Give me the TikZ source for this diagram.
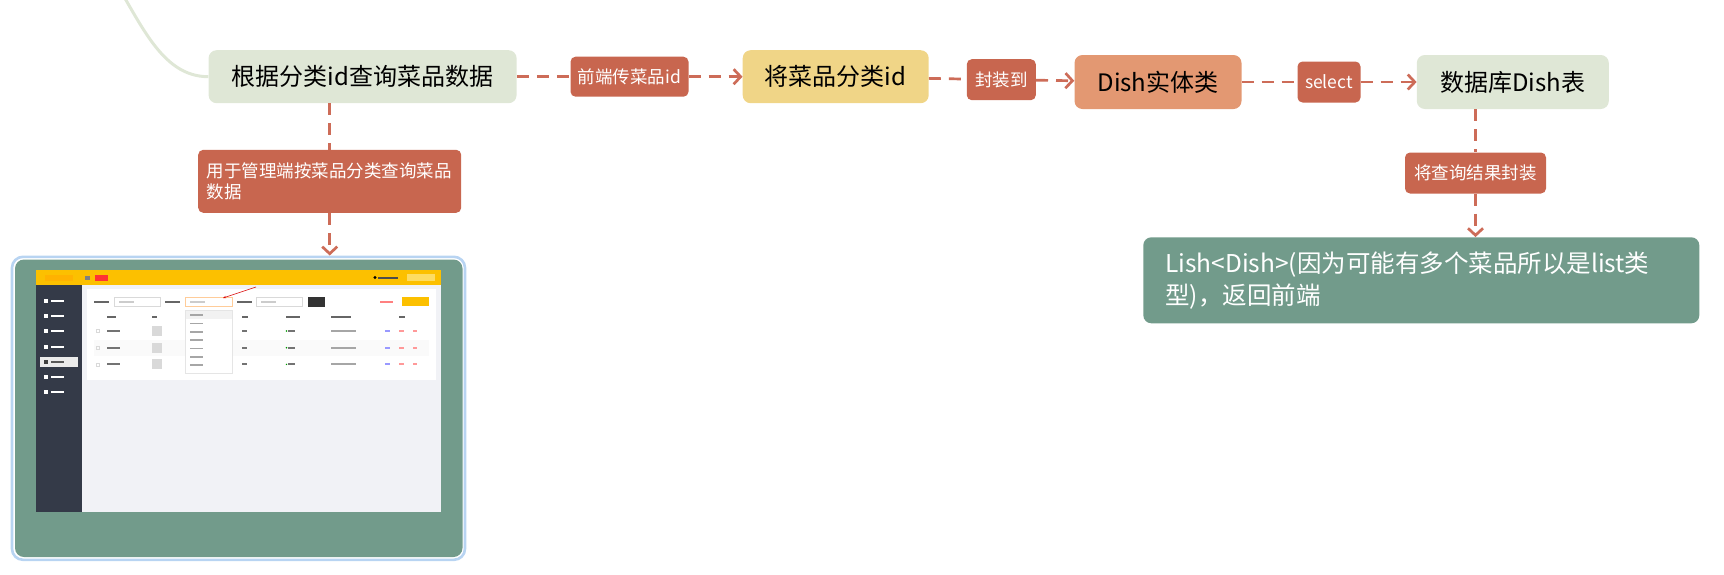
\documentclass[tikz,border=0pt]{standalone}
\usepackage{fontspec}
\newfontfamily\cjk{Noto Sans CJK SC}
\usetikzlibrary{arrows.meta}
\definecolor{topicgreen}{RGB}{223,231,214}
\definecolor{topicyellow}{RGB}{240,213,135}
\definecolor{topicsalmon}{RGB}{227,152,114}
\definecolor{tagred}{RGB}{200,102,79}
\definecolor{linkred}{RGB}{205,108,88}
\definecolor{resultgreen}{RGB}{114,155,139}
\definecolor{frameblue}{RGB}{184,212,242}
\definecolor{sidebar}{RGB}{52,58,72}
\definecolor{headyellow}{RGB}{252,192,0}
\definecolor{shotbg}{RGB}{241,242,246}
\begin{document}
\begin{tikzpicture}[x=1pt,y=-1pt,
	topic/.style={rounded corners=8pt,inner sep=0pt,text=black,font=\cjk\fontsize{24}{28}\selectfont},
	tag/.style={rounded corners=5pt,fill=tagred,text=white,inner sep=0pt,font=\cjk\fontsize{17.5}{21.5}\selectfont},
	link/.style={draw=linkred,line width=2.7pt,dash pattern=on 12pt off 8pt},
	tip/.style={-{Straight Barb[length=7pt,width=15pt]}},
	stemline/.style={draw=topicgreen,line width=3pt}]
	\useasboundingbox (0,0) rectangle (1724,574);
	\coordinate (stem) at (108,-30);
	\node[topic,fill=topicgreen,minimum width=308pt,minimum height=53pt] (find) at (362.6,76.7) {根据分类id查询菜品数据};
	\draw[stemline] (stem) .. controls (140,20) and (160,76.7) .. (find.west);
	\node[tag,minimum width=118pt,minimum height=40pt] (passid) at (629.5,76.7) {前端传菜品id};
	\node[topic,fill=topicyellow,minimum width=186pt,minimum height=53pt] (wrapid) at (835.7,76.7) {将菜品分类id};
	\node[tag,minimum width=69pt,minimum height=41pt] (packto) at (1001.3,79.7) {封装到};
	\node[topic,fill=topicsalmon,minimum width=167pt,minimum height=54pt] (entity) at (1158,82) {Dish实体类};
	\node[tag,minimum width=63pt,minimum height=41pt] (select) at (1329,82) {select};
	\node[topic,fill=topicgreen,minimum width=192pt,minimum height=54pt] (dishtable) at (1512.8,82) {数据库Dish表};
	\node[tag,minimum width=141pt,minimum height=41pt] (packres) at (1475.5,173) {将查询结果封装};
	\node[topic,fill=resultgreen,text=white,align=left,inner xsep=22pt,text width=512pt,minimum height=86pt,
		font=\cjk\fontsize{24.5}{31.6}\selectfont] (result) at (1421.3,280.3) {Lish<Dish>(因为可能有多个菜品所以是list类\\型)，返回前端};
	\node[tag,align=left,inner xsep=8.5pt,text width=246pt,minimum height=63pt] (usage) at (329.7,181.3) {用于管理端按菜品分类查询菜品\\数据};
	\node[draw=frameblue,line width=2.6pt,rounded corners=11pt,minimum width=453pt,minimum height=303pt,inner sep=0pt] (shot) at (238.5,408.3) {};
	\fill[resultgreen,rounded corners=9pt] (15,259.5) rectangle (462.5,557);
	\fill[shotbg] (36,270) rectangle (441,512);
	\fill[sidebar] (36,285) rectangle (82,512);
	\fill[headyellow] (36,270) rectangle (441,285);
	\fill[orange!60!yellow] (45,274.5) rectangle (73,281);
	\fill[gray] (85,276) rectangle (90,280);
	\fill[red!80] (95,275) rectangle (108,280.5);
	\fill[black] (375,277.5) circle (1.7);
	\fill[black!70] (378,276.5) rectangle (398,278.5);
	\fill[yellow!60!orange!60] (407,274) rectangle (435,281);
	\fill[black!8] (40,357) rectangle (78,367);
	\foreach \y/\c in {301/white,316.3/white,331.3/white,346.7/white,361.7/black,376.7/white,392/white}{
		\fill[\c!75] (44,\y-2) rectangle (48,\y+2);
		\fill[\c!65] (51,\y-1) rectangle (64,\y+1);
	}
	\fill[white] (87,289) rectangle (436,380);
	\foreach \a/\b in {94/109,165/180,237/252}{\fill[black!60] (\a,301) rectangle (\b,303);}
	\foreach \a/\b/\c in {114/160/black!15,185/232/orange!40,256/302/black!15}{
		\draw[\c,fill=white,line width=0.5pt] (\a,297) rectangle (\b,306);
		\fill[black!20] (\a+5,301) rectangle (\a+20,302.5);
	}
	\fill[black!80] (308,297) rectangle (325,306.5);
	\fill[red!50] (380,301) rectangle (393,303);
	\fill[headyellow] (402,297) rectangle (429,306);
	\fill[black!2] (94,339.5) rectangle (429,356);
	\foreach \a/\b in {107/116,152/157,242/248,286/300,331/351,399/405}{\fill[black!60] (\a,316) rectangle (\b,318);}
	\foreach \y in {331,347.7,364.3}{
		\draw[black!15,line width=0.4pt] (96.5,\y-1.5) rectangle (99.5,\y+1.5);
		\fill[black!55] (107,\y-1) rectangle (120,\y+1);
		\fill[black!15] (152,\y-5) rectangle (162,\y+5);
		\fill[black!55] (242,\y-1) rectangle (247,\y+1);
		\fill[green!60!black] (286.5,\y) circle (0.8);
		\fill[black!55] (288,\y-1) rectangle (295,\y+1);
		\fill[black!35] (331,\y-1) rectangle (356,\y+1);
		\fill[blue!40] (385,\y-1) rectangle (390,\y+1);
		\fill[red!40] (399,\y-1) rectangle (404,\y+1);
		\fill[red!40] (413,\y-1) rectangle (417,\y+1);
	}
	\draw[black!10,fill=white,line width=0.5pt] (185,310) rectangle (232,373);
	\fill[black!5] (185.5,311) rectangle (231.5,319);
	\foreach \y in {315,323.3,331.7,340,348.3,356.7,365}{\fill[black!35] (190,\y-0.8) rectangle (203,\y+0.8);}
	\draw[red!85!black,line width=0.6pt,-{Stealth[length=3pt]}] (256,287) -- (223,298);
	\draw[link] (find) -- (passid);
	\draw[link,tip] (passid) -- (wrapid);
	\draw[link] (wrapid) -- (packto);
	\draw[link,tip] (packto) -- (entity);
	\draw[link] (entity) -- (select);
	\draw[link,tip] (select) -- (dishtable);
	\draw[link] (packres.north |- dishtable.south) -- (packres.north);
	\draw[link,tip] (packres) -- (packres |- result.north);
	\draw[link] (usage.north |- find.south) -- (usage.north);
	\draw[link,tip] (usage) -- (usage |- shot.north);
\end{tikzpicture}
\end{document}
